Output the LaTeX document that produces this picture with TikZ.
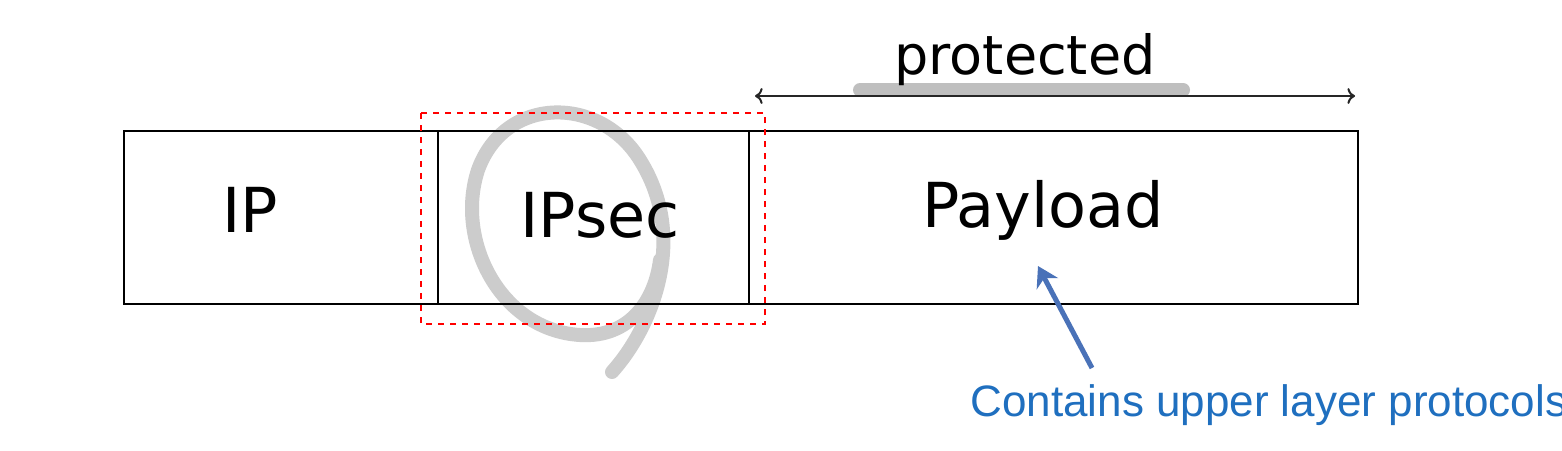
\documentclass[tikz,border=0pt]{standalone}
\usepackage{fontspec}
\usetikzlibrary{arrows.meta}
\setmainfont{DejaVu Sans}
\newfontfamily\arialf{Liberation Sans}
\definecolor{lblue}{HTML}{1F6FBF}
\definecolor{abl}{HTML}{4A72B8}
\begin{document}
\begin{tikzpicture}[x=0.5pt,y=-0.5pt,
  lbl/.style={font=\fontsize{31}{36}\selectfont}]
\clip (0,0) rectangle (1562,450);
\fill[white] (0,0) rectangle (1562,450);
% gray loop
\draw[gray!40,line width=7pt,line cap=round] (612,372) .. controls (650,330) and (690,240) .. (640,160)
  .. controls (600,95) and (505,95) .. (478,170) .. controls (455,240) and (500,330) .. (580,335)
  .. controls (630,338) and (655,300) .. (660,260);
% boxes
\draw[line width=1pt] (124,131) rectangle (1358,304);
\draw[line width=1pt] (438,131) -- (438,304);
\draw[line width=1pt] (749,131) -- (749,304);
\node[lbl] (tip) at (250,210) {IP};
\node[lbl] (tsec) at (600,215) {IPsec};
\node[lbl] (tpay) at (1043,210) {Payload};
\draw[red,dashed,line width=1.3pt] (421,113) rectangle (765,324);
% protected
\draw[gray!50,line width=7pt,line cap=round] (860,90) -- (1183,90);
\coordinate (pl) at (755,96); \coordinate (pr) at (1355,96);
\draw[<->,line width=1pt,gray!30!black] (pl) -- (pr);
\node[font=\fontsize{27}{32}\selectfont] (prot) at (1025,60) {protected};
% blue arrow
\node[font=\arialf\fontsize{22}{26}\selectfont,text=lblue,anchor=west,inner sep=0] (note) at (970,405) {Contains upper layer protocols};
\coordinate (as) at (1092,368);
\coordinate (ae) at (1038,266);
\draw[abl,line width=2.5pt,-{Stealth[length=10pt,width=12pt]}] (as) -- (ae);
\end{tikzpicture}
\end{document}
